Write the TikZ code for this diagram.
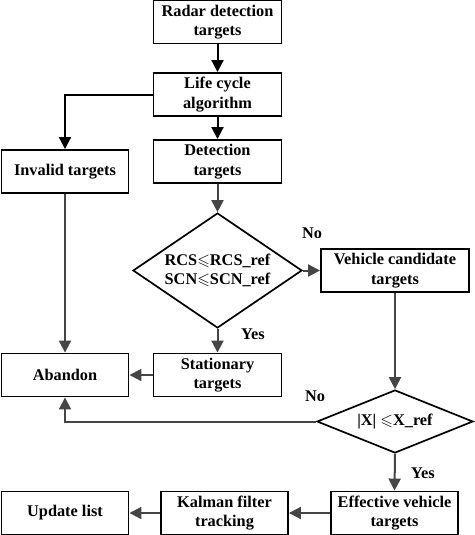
\documentclass[tikz,border=0pt]{standalone}
\usepackage{amssymb}
\usepackage{fontspec}
\setmainfont{Liberation Serif}
\usetikzlibrary{shapes.geometric,arrows.meta}
\definecolor{arr}{HTML}{454545}
\tikzset{
  box/.style={draw=black, line width=1.9pt, minimum width=128pt, minimum height=43pt, inner sep=1pt, align=center, font=\fontsize{16.3}{19.5}\selectfont\bfseries},
  dia/.style={draw=black, line width=1.7pt, diamond, inner sep=0pt, align=center, font=\fontsize{16.3}{19.5}\selectfont\bfseries},
  lbl/.style={font=\fontsize{16.3}{19.5}\selectfont\bfseries, inner sep=0pt},
  conn/.style={draw=arr, line width=2pt, -{Triangle[length=12pt,width=12pt]}},
  connb/.style={draw=black, line width=2pt, -{Triangle[length=12pt,width=12pt]}}
}
\begin{document}
\begin{tikzpicture}[x=1pt,y=-1pt]
\useasboundingbox (0,0) rectangle (474,535);
\node[box] (radar) at (217.5,22) {Radar detection\\targets};
\node[box] (life) at (217.5,94.5) {Life cycle\\algorithm};
\node[box] (det) at (217.5,161.5) {Detection\\targets};
\node[box, minimum width=127pt] (inv) at (65,171.5) {Invalid targets};
\node[dia, aspect=1.47, minimum width=169pt, minimum height=115pt] (d1) at (217.5,270.5) {RCS$\leqslant$RCS\_ref\\SCN$\leqslant$SCN\_ref};
\node[box, minimum width=148pt] (veh) at (395,270.5) {Vehicle candidate\\targets};
\node[box] (stat) at (217.5,375) {Stationary\\targets};
\node[box, minimum width=127pt] (aban) at (65,375) {Abandon};
\node[dia, aspect=2.48, minimum width=156pt, minimum height=63pt] (d2) at (395,421.5) {|X| $\leqslant$X\_ref};
\node[box, minimum width=127pt] (eff) at (394.5,513) {Effective vehicle\\targets};
\node[box, minimum width=127pt] (kal) at (224.5,513) {Kalman filter\\tracking};
\node[box, minimum width=127pt] (upd) at (65,513) {Update list};

\draw[connb] (radar.south) -- (life.north);
\draw[connb] (life.west) -| (inv.north);
\draw[connb] (life.south) -- (det.north);
\draw[conn] (det.south) -- (d1.north);
\draw[conn] (d1.east) -- (veh.west);
\draw[conn] (d1.south) -- (stat.north);
\draw[conn] (inv.south) -- (aban.north);
\draw[conn] (stat.west) -- (aban.east);
\draw[conn] (veh.south) -- (d2.north);
\draw[conn] (d2.west) -| (aban.south);
\draw[conn] (d2.south) -- (eff.north);
\draw[conn] (eff.west) -- (kal.east);
\draw[conn] (kal.west) -- (upd.east);

\node[lbl] (no1) at (312,233) {No};
\node[lbl] (yes1) at (253,334) {Yes};
\node[lbl] (no2) at (315,396) {No};
\node[lbl] (yes2) at (423,473) {Yes};
\end{tikzpicture}
\end{document}
